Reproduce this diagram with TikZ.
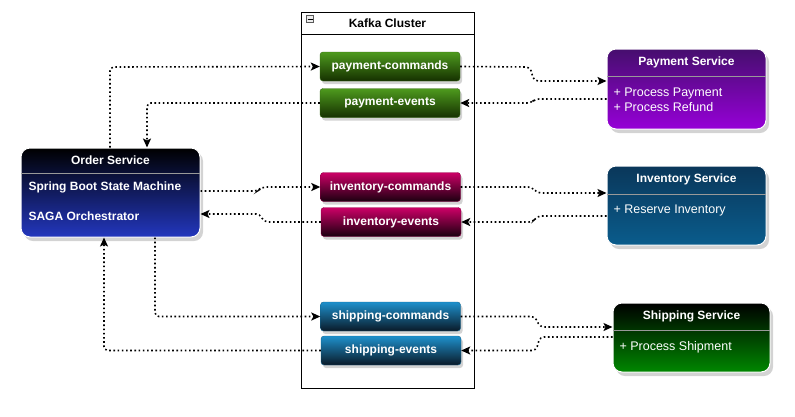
\documentclass[tikz,border=0pt]{standalone}
\usepackage{fontspec}
\setmainfont{Liberation Sans}
\usetikzlibrary{shadows,arrows.meta}
\definecolor{gtop}{HTML}{4E9A1E}\definecolor{gbot}{HTML}{153000}
\definecolor{mtop}{HTML}{CC0066}\definecolor{mbot}{HTML}{1A0010}
\definecolor{btop}{HTML}{1E90CC}\definecolor{bbot}{HTML}{0A1A28}
\begin{document}
\begin{tikzpicture}[x=1pt,y=-1pt,
  topic/.style={rounded corners=3pt,draw=#1!70!black,minimum width=140pt,minimum height=29pt,text=white,font=\bfseries\fontsize{12}{14}\selectfont,drop shadow={opacity=0.35,shadow xshift=2pt,shadow yshift=-3pt}},
  svc/.style={rounded corners=9pt,draw=white,line width=1pt,drop shadow={opacity=0.35,shadow xshift=3pt,shadow yshift=-4pt}},
  ttl/.style={text=white,font=\bfseries\fontsize{12}{14}\selectfont},
  itm/.style={text=white,font=\fontsize{12.5}{15}\selectfont,anchor=west,align=left},
  con/.style={line width=1.6pt,dash pattern=on 1.6pt off 2.6pt,rounded corners=4pt,-{Stealth[length=9pt,width=8pt,inset=2pt]}}]
\useasboundingbox (0,0) rectangle (795,416);
% Kafka cluster
\node[draw,line width=0.8pt,minimum width=173pt,minimum height=376pt,anchor=north west] (kafka) at (301,12) {};
\draw[line width=0.8pt] (301,34) -- (474,34);
\node[ttl,text=black] (ktitle) at (387.5,23) {Kafka Cluster};
\node[draw=gray!70!black,fill=gray!15,minimum size=7pt,inner sep=0pt] (kicon) at (310,19) {};
\draw[line width=0.8pt] (307.5,19) -- (312.5,19);
% topics
\node[topic=gtop,top color=gtop,bottom color=gbot] (pc) at (390,66.5) {payment-commands};
\node[topic=gtop,top color=gtop,bottom color=gbot] (pe) at (390,103) {payment-events};
\node[topic=mtop,top color=mtop,bottom color=mbot] (ic) at (390.5,187) {inventory-commands};
\node[topic=mtop,top color=mtop,bottom color=mbot] (ie) at (391,222) {inventory-events};
\node[topic=btop,top color=btop,bottom color=bbot] (sc) at (390.5,316.5) {shipping-commands};
\node[topic=btop,top color=btop,bottom color=bbot] (se) at (391,350.5) {shipping-events};
% order service
\node[svc,top color=black,bottom color={rgb,255:red,35;green,55;blue,190},minimum width=179pt,minimum height=89pt] (ord) at (110.5,192.5) {};
\draw[gray!80] (21,173) -- (200,173);
\node[ttl] (ordt) at (110.5,160) {Order Service};
\node[ttl,anchor=west] (ord1) at (25,187) {Spring Boot State Machine};
\node[ttl,anchor=west] (ord2) at (25,216) {SAGA Orchestrator};
% payment service
\node[svc,top color={rgb,255:red,70;green,14;blue,110},bottom color={rgb,255:red,150;green,0;blue,215},minimum width=159pt,minimum height=80pt] (pay) at (686.5,89) {};
\draw[gray!80,line width=1pt] (607,76) -- (766,76);
\node[ttl] (payt) at (686.5,62) {Payment Service};
\node[itm] (payi) at (610,100) {+ Process Payment\\+ Process Refund};
% inventory service
\node[svc,top color={rgb,255:red,10;green,55;blue,90},bottom color={rgb,255:red,10;green,92;blue,140},minimum width=159pt,minimum height=79pt] (inv) at (686.5,205.5) {};
\draw[gray!80,line width=1pt] (607,194) -- (766,194);
\node[ttl] (invt) at (686.5,179) {Inventory Service};
\node[itm] (invi) at (610,210) {+ Reserve Inventory};
% shipping service
\node[svc,top color=black,bottom color={rgb,255:red,0;green,135;blue,0},minimum width=157pt,minimum height=69pt] (ship) at (691.5,337.5) {};
\draw[gray!80,line width=1pt] (613,330) -- (770,330);
\node[ttl] (shipt) at (691.5,316) {Shipping Service};
\node[itm] (shipi) at (616,347) {+ Process Shipment};
% connectors left
\draw[con] (ord.north -| 110,0) -- (110,67) -- (pc.west);
\draw[con] (pe.west) -- (147,103) -- (ord.north -| 147,0);
\draw[con] (ord.east |- 0,191) -- (258,191) -- (262,187) -- (ic.west);
\draw[con] (ie.west) -- (264,222) -- (260,214) -- (ord.east |- 0,214);
\draw[con] (ord.south -| 155,0) -- (155,316.5) -- (sc.west);
\draw[con] (se.west) -- (104,350.5) -- (ord.south -| 104,0);
% connectors right
\draw[con] (pc.east) -- (530,67) -- (534,81) -- (pay.west |- 0,81);
\draw[con] (pay.west |- 0,99) -- (535,99) -- (531,103) -- (pe.east);
\draw[con] (ic.east) -- (532,187) -- (537,193) -- (inv.west |- 0,193);
\draw[con] (inv.west |- 0,216) -- (537,216) -- (533,222) -- (ie.east);
\draw[con] (sc.east) -- (535,316.5) -- (540,327) -- (ship.west |- 0,327);
\draw[con] (ship.west |- 0,337) -- (540,337) -- (536,350.5) -- (se.east);
\end{tikzpicture}
\end{document}
